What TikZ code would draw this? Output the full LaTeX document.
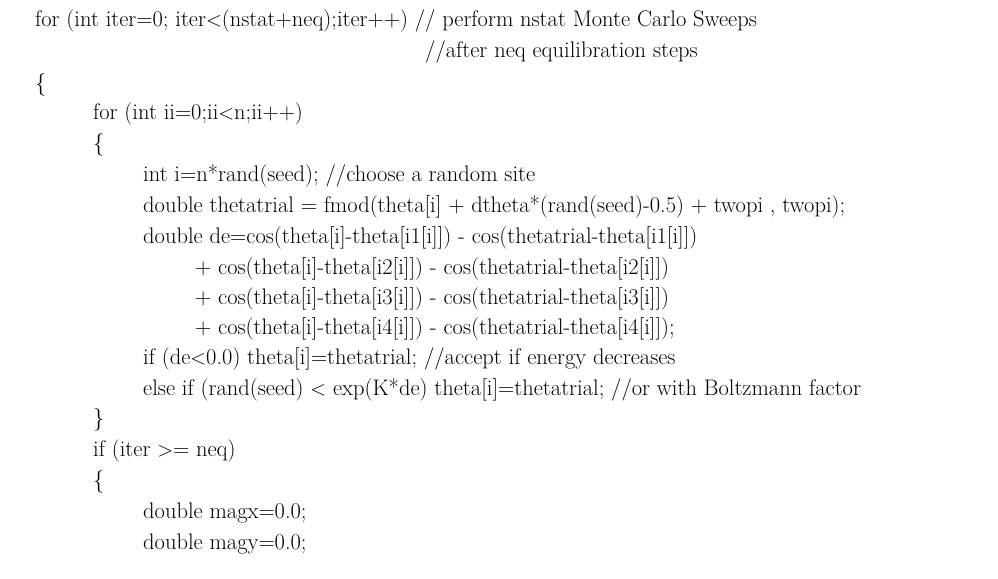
\documentclass[tikz,border=0pt]{standalone}
\begin{document}
\begin{tikzpicture}[x=1pt,y=-1pt,every node/.style={inner sep=0pt,anchor=base west,font=\fontsize{22.5}{26}\selectfont}]
\useasboundingbox (0,0) rectangle (998,578);
\node (l1) at (35,27) {for (int iter=0; iter$<$(nstat+neq);iter++) // perform nstat Monte Carlo Sweeps};
\node (l2) at (425,57) {//after neq equilibration steps};
\node (l3) at (35,90) {\{};
\node (l4) at (93,119) {for (int ii=0;ii$<$n;ii++)};
\node (l5) at (93,150) {\{};
\node (l6) at (143,181) {int i=n*rand(seed); //choose a random site};
\node (l7) at (143,212) {double thetatrial = fmod(theta[i] + dtheta*(rand(seed)-0.5) + twopi , twopi);};
\node (l8) at (143,243) {double de=cos(theta[i]-theta[i1[i]]) - cos(thetatrial-theta[i1[i]])};
\node (l9) at (195,274) {+ cos(theta[i]-theta[i2[i]]) - cos(thetatrial-theta[i2[i]])};
\node (l10) at (195,304) {+ cos(theta[i]-theta[i3[i]]) - cos(thetatrial-theta[i3[i]])};
\node (l11) at (195,334) {+ cos(theta[i]-theta[i4[i]]) - cos(thetatrial-theta[i4[i]]);};
\node (l12) at (143,364) {if (de$<$0.0) theta[i]=thetatrial; //accept if energy decreases};
\node (l13) at (143,395) {else if (rand(seed) $<$ exp(K*de) theta[i]=thetatrial; //or with Boltzmann factor};
\node (l14) at (93,425) {\}};
\node (l15) at (93,456) {if (iter $>$= neq)};
\node (l16) at (93,487) {\{};
\node (l17) at (143,518) {double magx=0.0;};
\node (l18) at (143,549) {double magy=0.0;};
\end{tikzpicture}
\end{document}
